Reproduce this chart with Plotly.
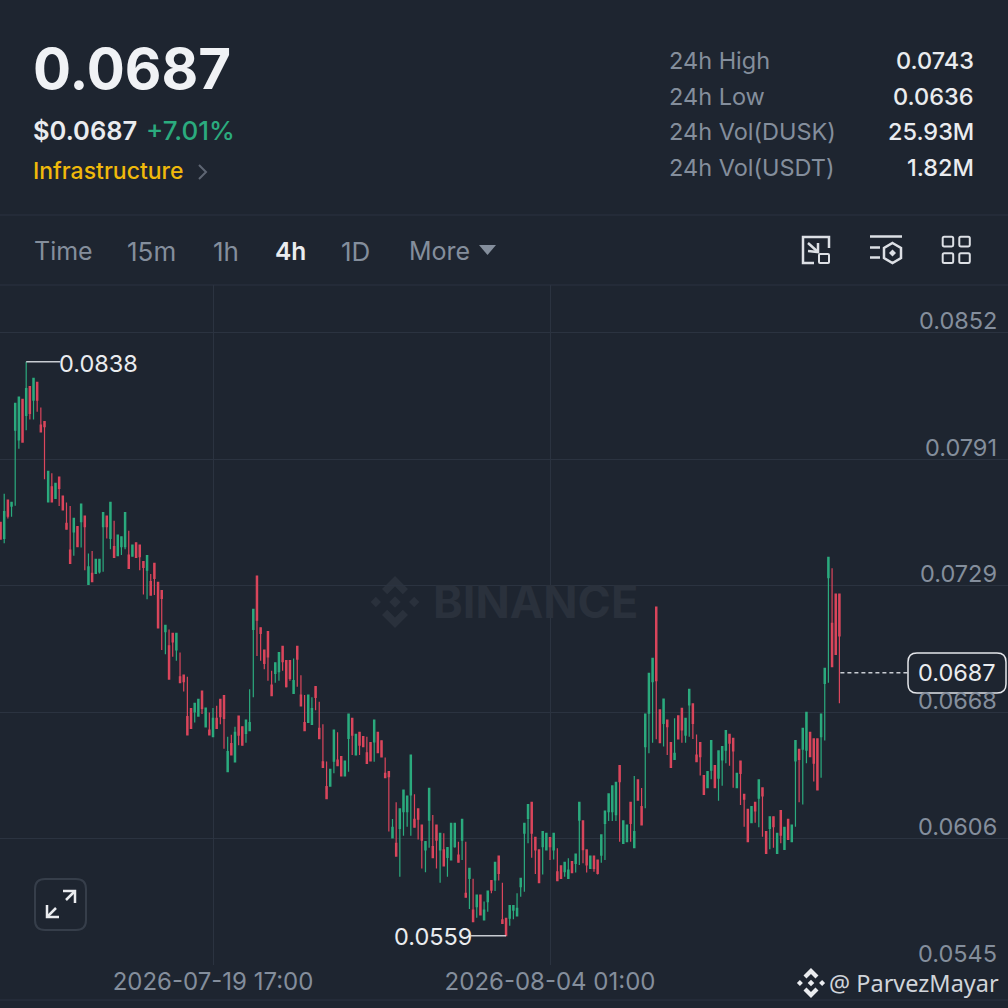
import pandas as pd
import plotly.graph_objects as go

# ---- data: 4h candles, prices in units of 0.00001 USDT ----
PRICE_UNIT = 1e-5
first_candle = "2026-07-10 01:00"
opens = [
7600,7522,7708,7679,8048,8000,8197,8120,8259,8194,
8280,8073,8089,7700,7773,7716,7820,7728,7595,7465,
7554,7579,7603,7631,7299,7352,7352,7360,7579,7631,
7522,7482,7438,7482,7482,7441,7436,7501,7490,7409,
7368,7312,7401,7309,7268,7069,7000,7061,6980,6850,
6858,6656,6696,6680,6659,6781,6607,6591,6559,6648,
6740,6758,6389,6526,6437,6659,6607,6575,6588,7080,
7339,7088,6980,7069,6810,6866,6875,6998,6928,6928,
6769,6998,6761,6628,6628,6619,6802,6599,6437,6316,
6319,6440,6445,6462,6368,6551,6648,6470,6580,6559,
6481,6530,6534,6580,6539,6381,6389,6067,6041,6114,
6195,6195,6276,6158,6208,6130,6009,6154,6025,6130,
6009,6009,5973,5960,6025,5984,6057,5798,5871,5717,
5733,5790,5669,5758,5860,5863,5979,5669,5677,5677,
5717,5688,5830,6090,6162,6240,6070,6009,6025,6009,
6069,6009,5903,5931,5903,5871,5952,5944,6154,6150,
6009,5919,5979,5960,5984,6138,6195,6195,6180,6418,
6041,6049,6240,6020,6349,6219,6511,6673,6826,7189,
6689,6624,6639,6530,6449,6660,6697,6567,6713,6718,
6470,6530,6370,6311,6397,6418,6357,6446,6494,6570,
6551,6311,6441,6279,6206,6141,6240,6260,6310,6098,
6114,6170,5992,6200,6012,6158,6049,6441,6498,6499,
6494,6580,6548,6548,6559,6818,7332,7110,7251,7251,
]
highs = [
7600,7739,7708,7697,8178,8209,8197,8380,8259,8299,
8280,8158,8089,7848,7838,7789,7820,7728,7697,7679,
7619,7579,7689,7631,7449,7461,7420,7420,7648,7631,
7697,7608,7538,7530,7648,7559,7490,7501,7490,7409,
7438,7349,7401,7309,7268,7100,7080,7061,7061,6968,
6858,6850,6696,6721,6740,6781,6698,6677,6698,6709,
6740,6758,6559,6568,6607,6659,6607,6640,6789,7177,
7339,7088,6980,7069,6879,6918,6968,6998,6928,6928,
6939,6998,6858,6761,6761,6750,6802,6729,6619,6439,
6400,6591,6580,6462,6441,6669,6648,6570,6580,6559,
6559,6530,6640,6580,6539,6458,6389,6159,6240,6208,
6300,6271,6470,6279,6208,6130,6049,6308,6179,6130,
6090,6090,6020,6049,6138,6049,6158,6049,5919,5869,
5790,5790,5758,5809,5860,5949,5979,5850,5677,5738,
5738,5798,5871,6138,6229,6240,6070,6009,6098,6090,
6069,6090,6017,5931,5949,5968,5952,5989,6240,6150,
6009,5979,5979,5960,6082,6200,6281,6320,6337,6418,
6150,6130,6240,6368,6349,6310,6669,6867,6940,7189,
6689,6741,6639,6530,6648,6660,6697,6648,6789,6718,
6570,6530,6370,6389,6540,6418,6490,6511,6588,6570,
6551,6381,6441,6279,6206,6219,6240,6349,6310,6098,
6170,6170,6090,6200,6119,6158,6130,6540,6498,6600,
6677,6580,6548,6548,6669,6891,7430,7377,7251,7251,
]
lows = [
7519,7499,7619,7627,7681,7958,7990,8048,8100,8100,
8137,8040,7809,7700,7700,7716,7679,7660,7567,7401,
7438,7482,7478,7368,7299,7312,7352,7352,7360,7522,
7469,7430,7438,7441,7470,7376,7436,7430,7368,7250,
7227,7247,7247,7088,6980,6959,6839,6947,6928,6821,
6779,6568,6599,6628,6659,6669,6607,6568,6559,6599,
6620,6500,6389,6470,6437,6518,6518,6530,6588,6750,
6951,6928,6887,6831,6758,6821,6831,6879,6798,6831,
6769,6802,6709,6588,6628,6619,6688,6549,6410,6258,
6319,6381,6418,6368,6368,6389,6470,6470,6470,6510,
6429,6441,6437,6481,6458,6360,6099,6067,5979,5879,
6078,6122,6078,6119,6060,5919,5900,6020,5971,5919,
5850,5931,5879,5960,6020,5949,5960,5779,5722,5660,
5680,5690,5669,5709,5798,5809,5860,5652,5592,5641,
5672,5688,5782,5806,6041,5971,5892,5850,5890,6009,
5960,5963,5860,5871,5879,5871,5899,5899,5936,5944,
5899,5919,5903,5890,5947,5960,6150,6150,6150,6049,
6041,6049,6049,6020,6248,6130,6211,6478,6530,6546,
6530,6511,6470,6410,6449,6548,6530,6530,6559,6548,
6438,6370,6279,6311,6352,6311,6248,6321,6430,6418,
6311,6311,6227,6122,6049,6141,6141,6119,6073,5992,
6012,6020,5992,6041,6012,6060,6049,6122,6240,6230,
6430,6462,6341,6300,6360,6540,6821,6899,6959,6721,
]
closes = [
7519,7652,7630,7697,8178,8209,7990,8250,8129,8299,
8194,8040,8065,7848,7700,7789,7765,7660,7567,7401,
7619,7482,7689,7579,7384,7312,7420,7420,7648,7579,
7697,7430,7538,7530,7648,7376,7490,7430,7433,7381,
7438,7247,7328,7088,7231,7100,6839,7020,7061,6821,
6826,6568,6599,6721,6740,6696,6698,6568,6648,6599,
6656,6648,6486,6470,6580,6567,6518,6640,6627,7177,
7125,7061,6915,6947,6758,6918,6968,6923,6802,6842,
6831,6936,6709,6588,6761,6696,6750,6549,6410,6258,
6400,6591,6418,6368,6441,6669,6567,6570,6518,6510,
6429,6441,6640,6481,6461,6360,6365,6119,5979,6208,
6300,6271,6470,6119,6158,6057,6049,6308,5971,6057,
6090,5931,6020,6138,6138,5949,6158,5779,5919,5660,
5790,5693,5717,5809,5814,5949,5895,5652,5592,5738,
5738,5725,5871,6138,6229,6090,6009,5850,6098,6090,
6025,6090,5860,5871,5949,5911,5899,5989,6240,6010,
5936,5979,5919,5895,6082,6198,6281,6320,6337,6341,
6150,6130,6138,6098,6251,6130,6669,6867,6940,6831,
6530,6741,6608,6410,6478,6548,6592,6648,6789,6624,
6438,6462,6279,6389,6540,6311,6490,6511,6588,6527,
6490,6381,6381,6255,6049,6219,6198,6349,6271,5992,
6170,6122,6090,6081,6119,6060,6130,6540,6449,6600,
6677,6462,6430,6300,6669,6891,7430,6899,6959,7048,
]
price_ticks = [0.0852, 0.07906, 0.07292, 0.06678, 0.06064, 0.0545]
price_tick_labels = ["0.0852", "0.0791", "0.0729", "0.0668", "0.0606", "0.0545"]
time_ticks = ["2026-07-19 17:00", "2026-08-04 01:00"]
last_price = 0.0687
high_label, low_label = "0.0838", "0.0559"
stats_names = ["24h High", "24h Low", "24h Vol(DUSK)", "24h Vol(USDT)"]
stats_values = ["0.0743", "0.0636", "25.93M", "1.82M"]
tabs = ["Time", "15m", "1h", "4h", "1D", "More"]

assert len(opens) == len(highs) == len(lows) == len(closes)
dates = pd.date_range(first_candle, periods=len(opens), freq="4h")
o = [v * PRICE_UNIT for v in opens]
h = [v * PRICE_UNIT for v in highs]
l = [v * PRICE_UNIT for v in lows]
c = [v * PRICE_UNIT for v in closes]

# ---- styling ----
BG = "#1E2530"
GRID = "#2B3340"
GREEN = "#2BAB7E"
RED = "#DB465C"
GRAY = "#848E9C"
WHITE = "#EAECEF"
FONT = "Inter, Noto Sans, sans-serif"

S = 1008.0
def X(px): return px / S
def Y(py): return 1 - py / S

annotations, shapes = [], []

def text(px, py, s, size=24, color=WHITE, anchor="left", weight=400, family=FONT):
    # annotations carry about 2px of inner padding
    dx = -2 if anchor == "left" else (2 if anchor == "right" else 0)
    annotations.append(dict(x=X(px + dx), y=Y(py), xref="paper", yref="paper", text=s, showarrow=False,
                            xanchor=anchor, yanchor="middle", align=anchor,
                            font=dict(size=size, color=color, family=family, weight=weight),
                            borderpad=0))

def path(points, color=None, fill=None, width=2.5, close=False, layer="above"):
    d = "M" + " L".join(f"{X(a):.5f},{Y(b):.5f}" for a, b in points) + (" Z" if close else "")
    shapes.append(dict(type="path", xref="paper", yref="paper", path=d, layer=layer,
                       line=dict(color=color or "rgba(0,0,0,0)", width=width if color else 0),
                       fillcolor=fill or "rgba(0,0,0,0)"))

def rrect(x0, y0, x1, y1, r, color, fill=None, width=2, layer="above"):
    d = (f"M{X(x0+r):.5f},{Y(y0):.5f} L{X(x1-r):.5f},{Y(y0):.5f} Q{X(x1):.5f},{Y(y0):.5f} {X(x1):.5f},{Y(y0+r):.5f} "
         f"L{X(x1):.5f},{Y(y1-r):.5f} Q{X(x1):.5f},{Y(y1):.5f} {X(x1-r):.5f},{Y(y1):.5f} "
         f"L{X(x0+r):.5f},{Y(y1):.5f} Q{X(x0):.5f},{Y(y1):.5f} {X(x0):.5f},{Y(y1-r):.5f} "
         f"L{X(x0):.5f},{Y(y0+r):.5f} Q{X(x0):.5f},{Y(y0):.5f} {X(x0+r):.5f},{Y(y0):.5f} Z")
    shapes.append(dict(type="path", xref="paper", yref="paper", path=d, layer=layer,
                       line=dict(color=color, width=width), fillcolor=fill or "rgba(0,0,0,0)"))

def logo(cx, cy, r, color, layer="above"):
    def pts(lst): return [(cx + a * r, cy + b * r) for a, b in lst]
    path(pts([(0,-1),(0.5,-0.5),(0.3,-0.3),(0,-0.6),(-0.3,-0.3),(-0.5,-0.5)]), fill=color, close=True, layer=layer)
    path(pts([(0,1),(0.5,0.5),(0.3,0.3),(0,0.6),(-0.3,0.3),(-0.5,0.5)]), fill=color, close=True, layer=layer)
    for dx, rad in ((0, 0.22), (-0.74, 0.2), (0.74, 0.2)):
        path(pts([(dx-rad,0),(dx,-rad),(dx+rad,0),(dx,rad)]), fill=color, close=True, layer=layer)

# header
text(34, 69, "0.0687", 56.5, "#F0F2F5", weight=700)
text(34, 130, "$0.0687", 25.5, WHITE, weight=600)
text(147, 130, "+7.01%", 26, GREEN, weight=500)
text(34, 171, "Infrastructure", 23, "#F0B90B", weight=500)
path([(199, 165), (206, 172), (199, 179)], color="#5E6673", width=2)
for i, (n, v) in enumerate(zip(stats_names, stats_values)):
    text(670, 60 + 36 * i, n, 23.5, GRAY)
    text(973, 60 + 36 * i, v, 23.5, WHITE, anchor="right", weight=500)

# dividers
for py in (215, 285, 1000):
    path([(0, py), (1008, py)], color=GRID, width=1.2)

# tabs
tab_x = [35, 128, 214, 276, 342, 410]
tab_size = [25, 26, 26, 24.5, 26, 25]
for s, px, fs in zip(tabs, tab_x, tab_size):
    text(px, 251, s, fs, WHITE if s == "4h" else GRAY, weight=600 if s == "4h" else 400)
path([(479, 245), (496, 245), (487.5, 255)], fill=GRAY, close=True)

# toolbar icons
IC = "#DDE0E5"
path([(814, 263), (803, 263), (803, 237), (829, 237), (829, 248)], color=IC)
rrect(819, 254, 829, 263, 1, IC)
path([(808, 243), (818, 252)], color=IC)
path([(808, 251), (818, 252), (818, 243)], color=IC)
path([(870, 236.5), (902, 236.5)], color=IC)
path([(870, 247.5), (880, 247.5)], color=IC)
path([(870, 257.5), (880, 257.5)], color=IC)
path([(892.5, 243), (901, 248), (901, 258), (892.5, 263), (884, 258), (884, 248)], color=IC, close=True)
path([(892.5, 249.5), (896, 253), (892.5, 256.5), (889, 253)], fill=IC, close=True)
for a, b in ((942.7, 236.7), (959.3, 236.7), (942.7, 253.3), (959.3, 253.3)):
    rrect(a, b, a + 10.5, b + 9.7, 1.5, IC)

# watermark
logo(395, 602, 26, "#2A313C", layer="below")
text(434, 601, "BINANCE", 45, "#2A313C", weight=700)

# y labels tied to ticks
for v, s in zip(price_ticks, price_tick_labels):
    annotations.append(dict(x=X(999), y=v, xref="paper", yref="y", text=s, showarrow=False, xanchor="right",
                            yanchor="middle", yshift=12, font=dict(size=23.5, color=GRAY, family=FONT)))

# high / low markers
hi = h.index(max(h))
li = l.index(min(l))
shapes.append(dict(type="line", xref="x", yref="y", xsizemode="pixel", xanchor=dates[hi], x0=0, x1=34,
                   y0=h[hi], y1=h[hi], line=dict(color="#C8CCD2", width=1.5)))
annotations.append(dict(x=dates[hi], y=h[hi], xref="x", yref="y", text=high_label, showarrow=False, xanchor="left",
                        yanchor="middle", xshift=31, yshift=-2, font=dict(size=23.5, color=WHITE, family=FONT)))
shapes.append(dict(type="line", xref="x", yref="y", xsizemode="pixel", xanchor=dates[li], x0=-35, x1=0,
                   y0=l[li], y1=l[li], line=dict(color="#C8CCD2", width=1.5)))
annotations.append(dict(x=dates[li], y=l[li], xref="x", yref="y", text=low_label, showarrow=False, xanchor="right",
                        yanchor="middle", xshift=-32, yshift=-1, font=dict(size=23.5, color=WHITE, family=FONT)))

# last price marker
shapes.append(dict(type="line", xref="x", yref="y", xsizemode="pixel", xanchor=dates[-1], x0=1, x1=69,
                   y0=last_price, y1=last_price, line=dict(color="#C8CCD2", width=1.5, dash="4px,3px")))
rrect(908, 653, 1006, 693, 9, "#E4E6EA", fill=BG, width=1.5)
annotations.append(dict(x=X(957), y=last_price, xref="paper", yref="y", text="0.0687", showarrow=False,
                        xanchor="center", yanchor="middle", font=dict(size=23.5, color=WHITE, family=FONT)))

# expand button
rrect(35, 879, 86, 930, 10, "#363E4A", width=2)
path([(47, 917), (56, 908)], color=WHITE, width=2.5)
path([(66, 900), (75, 891)], color=WHITE, width=2.5)
path([(47, 905), (47, 917), (59, 917)], color=WHITE, width=2.5)
path([(63, 891), (75, 891), (75, 903)], color=WHITE, width=2.5)

# footer credit
logo(811, 983, 15, WHITE)
text(830, 983, "@ ParvezMayar", 23.5, "#D0D4DA", family="Noto Sans, sans-serif")

fig = go.Figure(go.Candlestick(
    x=dates, open=o, high=h, low=l, close=c,
    increasing=dict(line=dict(color=GREEN, width=1.2), fillcolor=GREEN),
    decreasing=dict(line=dict(color=RED, width=1.2), fillcolor=RED),
    whiskerwidth=0, hoverinfo="skip", showlegend=False,
))
fig.update_layout(
    width=1008, height=1008, margin=dict(l=0, r=0, t=0, b=0), autosize=False,
    paper_bgcolor=BG, plot_bgcolor=BG, showlegend=False, boxgap=0.5,
    annotations=annotations, shapes=shapes, hovermode=False,
    xaxis=dict(type="date", range=["2026-07-10 00:24", "2026-08-24 21:06"], rangeslider=dict(visible=False),
               tickmode="array", tickvals=time_ticks, tickformat="%Y-%m-%d %H:%M", ticks="",
               tickcolor=BG, showline=False, showgrid=True, gridcolor=GRID, gridwidth=1.2, zeroline=False,
               tickfont=dict(size=24, color=GRAY, family=FONT), anchor="y"),
    yaxis=dict(range=[0.0545, 0.08753], domain=[43 / S, 723 / S], tickmode="array", tickvals=price_ticks,
               showticklabels=False, ticks="", showgrid=True, gridcolor=GRID, gridwidth=1.2, zeroline=False,
               showline=False),
)
fig.write_html("out.html", config={"displayModeBar": False},
               post_script="document.body.style.margin='0';document.body.style.background='%s';document.body.style.overflow='hidden';" % BG)
